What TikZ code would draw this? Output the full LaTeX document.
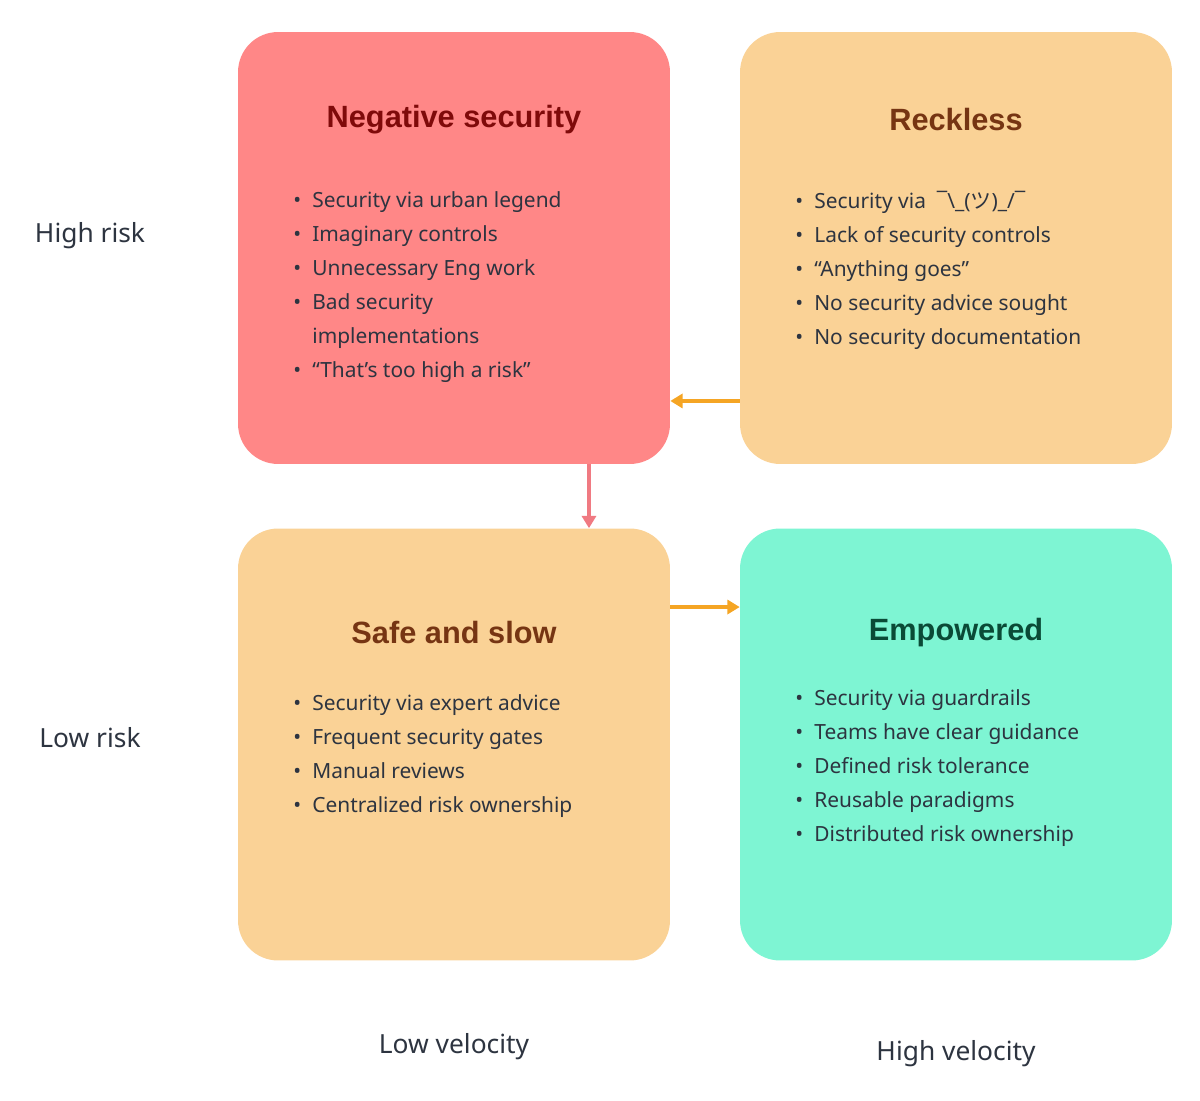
\documentclass[tikz,border=0pt]{standalone}
\usepackage{fontspec}
\setmainfont{Noto Sans}
\newfontfamily\headfont{Liberation Sans}
\newfontfamily\cjkfont{Noto Sans CJK JP}
\usetikzlibrary{arrows.meta,positioning}
\definecolor{negfill}{HTML}{FF8787}
\definecolor{negtext}{HTML}{7F0A0A}
\definecolor{warmfill}{HTML}{FAD296}
\definecolor{warmtext}{HTML}{763513}
\definecolor{goodfill}{HTML}{7EF5D3}
\definecolor{goodtext}{HTML}{0A4A36}
\definecolor{bodytext}{HTML}{2D3440}
\definecolor{arroworange}{HTML}{F5A524}
\definecolor{arrowpink}{HTML}{F07A82}

\newlength{\unitpx}
\setlength{\unitpx}{0.02cm}
\newcommand{\bul}{\makebox[19\unitpx][l]{\textbullet}}

\begin{document}
\begin{tikzpicture}[
    x=0.02cm, y=-0.02cm,
    >={Triangle[length=7pt,width=8pt]},
    quad/.style={
        rectangle,
        rounded corners=0.8cm,
        minimum width=8.64cm,
        minimum height=8.64cm,
        draw=none
    },
    heading/.style={
        font=\headfont\fontsize{17.5}{20}\selectfont\bfseries,
        anchor=center
    },
    items/.style={
        anchor=north west,
        align=left,
        text=bodytext,
        inner sep=0pt,
        font=\fontsize{11.9}{19.35}\selectfont
    },
    axislabel/.style={
        font=\fontsize{15}{18}\selectfont,
        text=bodytext
    },
    link/.style={->, line width=2pt}
]
    \useasboundingbox (0,0) rectangle (1200,1101);

    % === QUADRANTS ===
    \node[quad, fill=negfill] (neg) at (454,248) {};
    \node[quad, fill=warmfill] (rk) at (956,248) {};
    \node[quad, fill=warmfill] (safe) at (454,744.5) {};
    \node[quad, fill=goodfill] (emp) at (956,744.5) {};

    % Titles
    \node[heading, text=negtext] (negtitle) at (454,120) {Negative security};
    \node[heading, text=warmtext] (rktitle) at (956,120) {Reckless};
    \node[heading, text=warmtext] (safetitle) at (454,633) {Safe and slow};
    \node[heading, text=goodtext] (emptitle) at (956,633) {Empowered};

    % Bullet lists
    \node[items] (neglist) at (293,191) {\bul Security via urban legend\\
        \bul Imaginary controls\\
        \bul Unnecessary Eng work\\
        \bul Bad security\\
        \hspace*{19\unitpx}implementations\\
        \bul “That’s too high a risk”};
    \node[items] (rklist) at (795,191) {\bul Security via \ ¯\textbackslash\_({\cjkfont ツ})\_/¯\\
        \bul Lack of security controls\\
        \bul “Anything goes”\\
        \bul No security advice sought\\
        \bul No security documentation};
    \node[items] (safelist) at (293,694) {\bul Security via expert advice\\
        \bul Frequent security gates\\
        \bul Manual reviews\\
        \bul Centralized risk ownership};
    \node[items] (emplist) at (795,689) {\bul Security via guardrails\\
        \bul Teams have clear guidance\\
        \bul Defined risk tolerance\\
        \bul Reusable paradigms\\
        \bul Distributed risk ownership};

    % === TRANSITIONS ===
    \draw[link, arroworange] ([yshift=-3.06cm]rk.west) -- ([yshift=-3.06cm]neg.east);
    \draw[link, arrowpink] ([xshift=2.7cm]neg.south) -- ([xshift=2.7cm]safe.north);
    \draw[link, arroworange] ([yshift=2.75cm]safe.east) -- ([yshift=2.75cm]emp.west);

    % === AXES ===
    \node[axislabel] (highrisk) at (90,236) {High risk};
    \node[axislabel] (lowrisk) at (90,738) {Low risk};
    \node[axislabel] (lowvel) at (454,1047) {Low velocity};
    \node[axislabel] (highvel) at (956,1054) {High velocity};
\end{tikzpicture}
\end{document}
